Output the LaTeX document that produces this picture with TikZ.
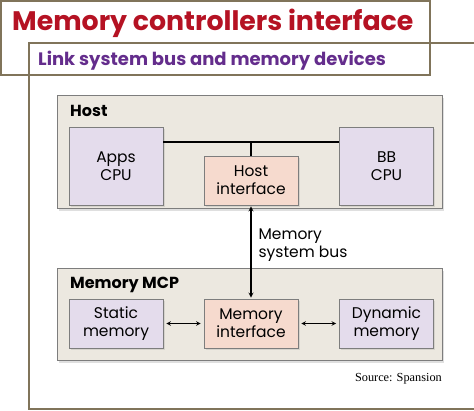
\documentclass[tikz,border=0pt]{standalone}
\usepackage{fontspec}
\setmainfont{Poppins}
\newfontfamily\srcfont{Liberation Serif}
\usetikzlibrary{shadows}

\definecolor{framecol}{RGB}{128,116,90}
\definecolor{titlered}{RGB}{181,18,35}
\definecolor{subpurple}{RGB}{100,45,140}
\definecolor{groupfill}{RGB}{236,232,224}
\definecolor{cpufill}{RGB}{228,220,236}
\definecolor{iffill}{RGB}{246,218,206}
\definecolor{edgegray}{RGB}{125,125,125}

\begin{document}
\begin{tikzpicture}[
  x = 1pt, y = -1pt,
  group/.style = {draw = edgegray, fill = groupfill, line width = 1pt,
    inner sep = 0pt,
    drop shadow = {shadow xshift = 2pt, shadow yshift = -3pt, opacity = 0.25}},
  block/.style = {draw = edgegray, fill = cpufill, line width = 0.8pt,
    minimum width = 94pt, minimum height = 49pt, inner sep = 0pt,
    align = center, font = \fontsize{15.5}{18}\selectfont,
    drop shadow = {shadow xshift = 1.5pt, shadow yshift = -2pt, opacity = 0.2}},
  ifblock/.style = {block, fill = iffill},
  grouplabel/.style = {anchor = base west, inner sep = 0pt,
    font = \fontsize{16}{18}\selectfont\bfseries}
  ]

  \useasboundingbox (0,0) rectangle (474,410);

  % Frames
  \draw [framecol, line width = 2pt] (1,1) rectangle (430,75);
  \draw [framecol, line width = 2pt] (29,43) rectangle (480,409);

  \node at (12,30) [anchor = base west, inner sep = 0pt, name = title,
    text = titlered, font = \fontsize{26.8}{30}\selectfont\bfseries]
    {Memory controllers interface};
  \node at (38,65) [anchor = base west, inner sep = 0pt, name = subtitle,
    text = subpurple, font = \fontsize{18}{20}\selectfont\bfseries]
    {Link system bus and memory devices};

  % Groups
  \node at (249.5,151.5) [group, minimum width = 385pt, minimum height = 113pt,
    name = host] {};
  \node at (249.5,314) [group, minimum width = 385pt, minimum height = 92pt,
    name = mcp] {};
  \node at (70,116) [grouplabel, name = host_lbl] {Host};
  \node at (70,288) [grouplabel, name = mcp_lbl] {Memory MCP};

  % Nodes
  \node at (116  ,166) [block, minimum height = 78pt, name = apps_cpu] {Apps\\CPU};
  \node at (386.5,166) [block, minimum height = 78pt, name = bb_cpu] {BB\\CPU};
  \node at (251,180.5) [ifblock, name = host_if] {Host\\interface};

  \node at (116  ,323.5) [block, name = static_mem] {Static\\memory};
  \node at (251  ,323.5) [ifblock, name = mem_if] {Memory\\interface};
  \node at (386.5,323.5) [block, name = dyn_mem] {Dynamic\\memory};

  % Buses
  \coordinate (tap) at (host_if.north |- 0,142);
  \draw [line width = 1.2pt] (apps_cpu.east |- tap) -- (bb_cpu.west |- tap);
  \draw [line width = 1.2pt] (tap) -- (host_if);

  \draw [<->, >=stealth, line width = 1.2pt, shorten <= 1pt, shorten >= 1pt]
    (host_if) to node [right, pos = 0.43, align = left, inner sep = 7pt,
    font = \fontsize{15.5}{18}\selectfont] {Memory\\system bus} (mem_if);
  \draw [<->, >=stealth, line width = 1pt, shorten <= 3pt, shorten >= 3pt]
    (static_mem) to (mem_if);
  \draw [<->, >=stealth, line width = 1pt, shorten <= 3pt, shorten >= 3pt]
    (mem_if) to (dyn_mem);

  \node at (442,381) [anchor = base east, inner sep = 0pt, name = source,
    font = \srcfont\fontsize{12.3}{14}\selectfont] {Source: Spansion};

\end{tikzpicture}
\end{document}
